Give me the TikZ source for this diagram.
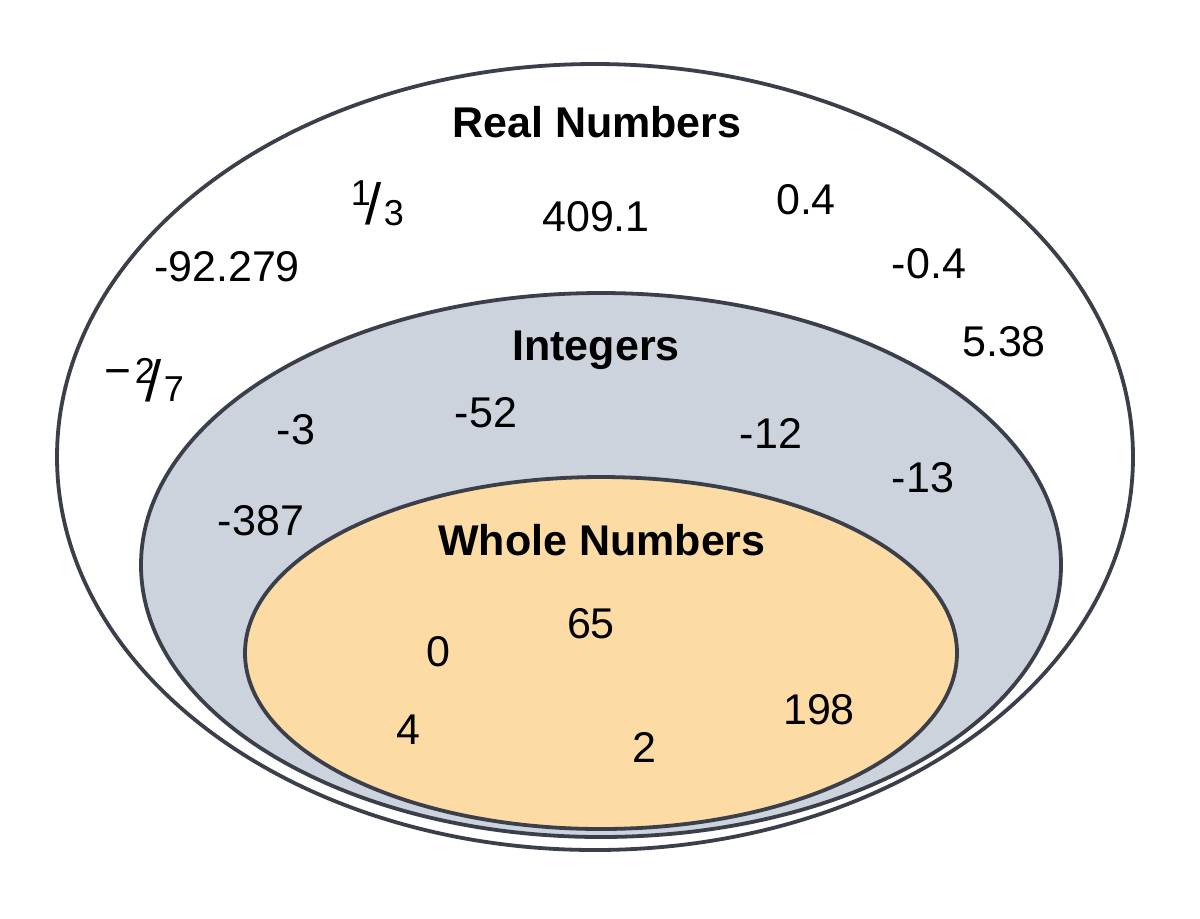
\documentclass[tikz,border=0pt]{standalone}
\usepackage{fontspec}
\setmainfont{Liberation Sans}
\usepackage{tikz}
\usetikzlibrary{shapes.geometric,positioning}
\usepackage{xcolor}
\definecolor{edgecolor}{RGB}{58, 63, 74}
\definecolor{intcolor}{RGB}{205, 211, 220}
\definecolor{wholecolor}{RGB}{253, 219, 164}

\begin{document}
\begin{tikzpicture}[
    x=0.5pt, y=-0.5pt,
    setnode/.style={ellipse, draw=edgecolor, line width=1.9pt, inner sep=0pt},
    title/.style={font=\fontsize{21.5pt}{24pt}\selectfont\bfseries, text=black},
    num/.style={font=\fontsize{21.5pt}{24pt}\selectfont, text=black},
    fracpart/.style={font=\fontsize{18pt}{20pt}\selectfont, text=black, inner sep=0pt, text height=12.9pt, text depth=0pt},
    fracslash/.style={font=\fontsize{29pt}{30pt}\selectfont, text=black, inner sep=0pt, text height=20.8pt, text depth=0.5pt}
]
    \useasboundingbox (0,0) rectangle (1200,918);

    % Sets
    \node[setnode, fill=white, minimum width=538pt, minimum height=393pt] (real) at (595, 457) {};
    \node[setnode, fill=intcolor, minimum width=460pt, minimum height=272pt] (int) at (601, 565) {};
    \node[setnode, fill=wholecolor, minimum width=356pt, minimum height=176pt] (whole) at (601, 653) {};

    % Real numbers
    \node[title] (realtitle) at (597, 122) {Real Numbers};
    \node[fracpart] (r1a) at (361, 193) {1};
    \node[fracslash] (r1s) at (374, 204) {/};
    \node[fracpart] (r1b) at (394, 213) {3};
    \node[num] (r2) at (596, 217) {409.1};
    \node[num] (r3) at (806, 200) {0.4};
    \node[num] (r4) at (227, 267) {-92.279};
    \node[num] (r5) at (929, 264) {-0.4};
    \node[num] (r6) at (1004, 342) {5.38};
    \node[fracpart, font=\fontsize{23pt}{26pt}\selectfont, text height=9.5pt] (r7m) at (118, 377) {\textminus};
    \node[fracpart] (r7a) at (145, 371) {2};
    \node[fracslash] (r7s) at (154, 381) {/};
    \node[fracpart] (r7b) at (174, 389) {7};

    % Integers
    \node[title] (inttitle) at (596, 350) {Integers};
    \node[num] (i1) at (296, 430) {-3};
    \node[num] (i2) at (486, 413) {-52};
    \node[num] (i3) at (771, 433) {-12};
    \node[num] (i4) at (923, 478) {-13};
    \node[num] (i5) at (261, 521) {-387};

    % Whole numbers
    \node[title] (wholetitle) at (602, 540) {Whole Numbers};
    \node[num] (w1) at (591, 624) {65};
    \node[num] (w2) at (438, 652) {0};
    \node[num] (w3) at (819, 710) {198};
    \node[num] (w4) at (408, 730) {4};
    \node[num] (w5) at (644, 747) {2};
\end{tikzpicture}
\end{document}
